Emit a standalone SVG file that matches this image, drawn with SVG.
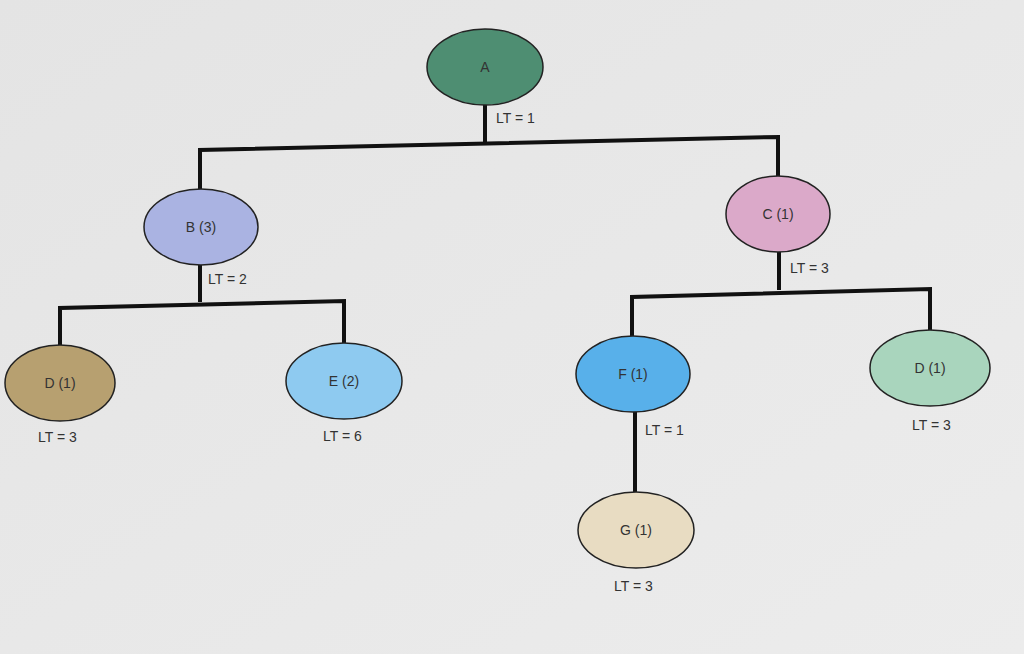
<svg xmlns="http://www.w3.org/2000/svg" width="1024" height="654" viewBox="0 0 1024 654">
<style>
.n{stroke:#222;stroke-width:1.5}
.t{font-family:"Liberation Sans",Arial,sans-serif;font-size:14px;fill:#333;text-anchor:middle}
.l{font-family:"Liberation Sans",Arial,sans-serif;font-size:14px;fill:#333}
.c{stroke:#111;stroke-width:4;fill:none}
</style>
<defs><linearGradient id="bg" x1="0" y1="0" x2="1" y2="1"><stop offset="0" stop-color="#e4e4e4"/><stop offset="1" stop-color="#ececec"/></linearGradient></defs>
<rect width="1024" height="654" fill="url(#bg)"/>
<g id="connectors">
<path class="c" d="M485,105 V142 M200,190 V150 L778,137 V176"/>
<path class="c" d="M200,265 V302 M60,345 V308 L344,301 V343"/>
<path class="c" d="M779,252 V290 M632,336 V297 L930,289 V330"/>
<path class="c" d="M635,412 V492"/>
</g>
<g id="A"><ellipse class="n" cx="485" cy="67" rx="58" ry="38" fill="#4e8e72"/><text class="t" x="485" y="72">A</text><text class="l" x="496" y="123">LT = 1</text></g>
<g id="B"><ellipse class="n" cx="201" cy="227" rx="57" ry="38" fill="#aab3e2"/><text class="t" x="201" y="232">B (3)</text><text class="l" x="208" y="284">LT = 2</text></g>
<g id="C"><ellipse class="n" cx="778" cy="214" rx="52" ry="38" fill="#dba9c9"/><text class="t" x="778" y="219">C (1)</text><text class="l" x="790" y="273">LT = 3</text></g>
<g id="D1"><ellipse class="n" cx="60" cy="383" rx="55" ry="38" fill="#b7a070"/><text class="t" x="60" y="388">D (1)</text><text class="l" x="38" y="442">LT = 3</text></g>
<g id="E"><ellipse class="n" cx="344" cy="381" rx="58" ry="38" fill="#8ecaf0"/><text class="t" x="344" y="386">E (2)</text><text class="l" x="323" y="441">LT = 6</text></g>
<g id="F"><ellipse class="n" cx="633" cy="374" rx="57" ry="38" fill="#58b0ea"/><text class="t" x="633" y="379">F (1)</text><text class="l" x="645" y="435">LT = 1</text></g>
<g id="D2"><ellipse class="n" cx="930" cy="368" rx="60" ry="38" fill="#a9d5bd"/><text class="t" x="930" y="373">D (1)</text><text class="l" x="912" y="430">LT = 3</text></g>
<g id="G"><ellipse class="n" cx="636" cy="530" rx="58" ry="38" fill="#e8dcc2"/><text class="t" x="636" y="535">G (1)</text><text class="l" x="614" y="591">LT = 3</text></g>
</svg>
